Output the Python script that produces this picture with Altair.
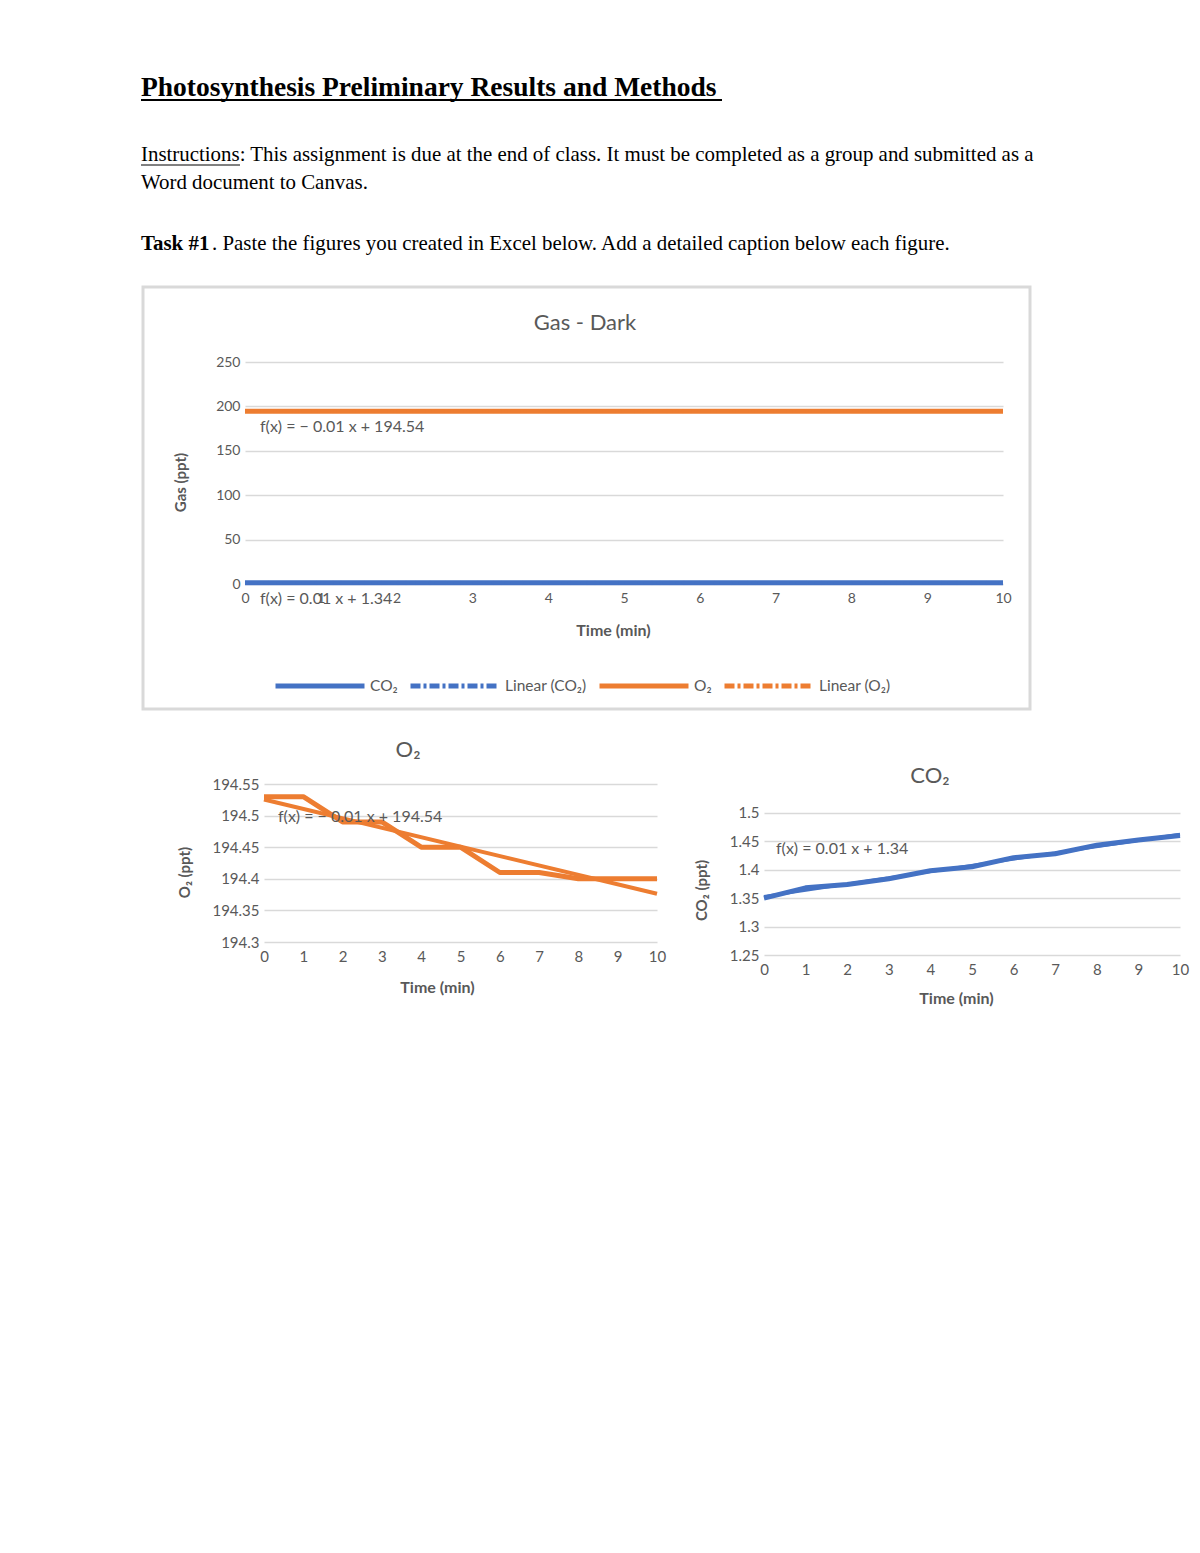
import altair as alt
import pandas as pd

# ---------------- data ----------------
time_min = [0, 1, 2, 3, 4, 5, 6, 7, 8, 9, 10]
o2_ppt = [194.53, 194.53, 194.49, 194.49, 194.45, 194.45, 194.41, 194.41, 194.40, 194.40, 194.40]
co2_ppt = [1.350, 1.368, 1.374, 1.384, 1.398, 1.405, 1.421, 1.428, 1.443, 1.452, 1.460]
gas_names = ["CO₂", "O₂"]
series_names = ["CO₂", "Linear (CO₂)", "O₂", "Linear (O₂)"]
x_ticks = [0, 1, 2, 3, 4, 5, 6, 7, 8, 9, 10]
main_y_ticks = [0, 50, 100, 150, 200, 250]
o2_y_ticks = [194.3, 194.35, 194.4, 194.45, 194.5, 194.55]
co2_y_ticks = [1.25, 1.3, 1.35, 1.4, 1.45, 1.5]

doc_title = "Photosynthesis Preliminary Results and Methods "
doc_line1 = "Instructions: This assignment is due at the end of class. It must be completed as a group and submitted as a"
doc_line2 = "Word document to Canvas."
doc_task_bold = "Task #1"
doc_task_rest = ". Paste the figures you created in Excel below. Add a detailed caption below each figure."

main_title = "Gas - Dark"
o2_title = "O₂"
co2_title = "CO₂"
eq_o2 = "f(x) = − 0.01 x + 194.54"
eq_co2 = "f(x) = 0.01 x + 1.34"

# ---------------- styles ----------------
FONT = "Lato"
SERIF = "Liberation Serif"
GRAY = "#595959"
GRID = "#d9d9d9"
BLUE = "#4472C4"
ORANGE = "#ED7D31"
series_colors = [BLUE, BLUE, ORANGE, ORANGE]
series_dashes = [[1, 0], [10, 3, 3, 3], [1, 0], [10, 3, 3, 3]]

long_df = pd.DataFrame({
    "time": time_min * 2,
    "gas": [gas_names[0]] * len(time_min) + [gas_names[1]] * len(time_min),
    "value": co2_ppt + o2_ppt,
})
o2_df = pd.DataFrame({"time": time_min, "value": o2_ppt})
co2_df = pd.DataFrame({"time": time_min, "value": co2_ppt})


def one(text):
    return alt.Chart(pd.DataFrame({"t": [text]}))


def label(text, x, y, size, color=GRAY, font=FONT, weight="normal", align="left", baseline="middle"):
    return one(text).mark_text(font=font, fontSize=size, color=color, fontWeight=weight,
                               align=align, baseline=baseline).encode(
        x=alt.value(x), y=alt.value(y), text="t:N")


def anchor(x, x2, y, y2):
    return one("").mark_rect(opacity=0).encode(
        x=alt.value(x), x2=alt.value(x2), y=alt.value(y), y2=alt.value(y2))


def x_axis(tx, ty, size):
    return alt.Axis(values=x_ticks, title="Time (min)", grid=False, ticks=False, tickSize=0,
                    domain=False, labelFont=FONT, labelFontSize=size, labelColor=GRAY,
                    labelPadding=7, labelAngle=0, labelFlush=False, labelOverlap=False,
                    titleFont=FONT, titleFontSize=16,
                    titleFontWeight="bold", titleColor=GRAY, titleX=tx, titleY=ty,
                    titleBaseline="middle")


def y_axis(vals, fmt, title, tx, ty, size, pad=5):
    return alt.Axis(values=vals, format=fmt, title=title, grid=True, gridColor=GRID,
                    gridWidth=1.6, ticks=False, tickSize=0, domain=False, labelFont=FONT,
                    labelFontSize=size, labelColor=GRAY, labelPadding=pad, labelFlush=False,
                    titleFont=FONT,
                    titleFontSize=15, titleFontWeight="bold", titleColor=GRAY,
                    titleX=tx, titleY=ty, titleBaseline="middle")


# ---------------- main chart: Gas - Dark ----------------
# origin of this panel is aligned with the O2 panel origin; the plot itself starts 19px left of it
W1, H1 = 739, 222
legend_def = alt.Legend(title=None, orient="none", legendX=9, legendY=277,
                        direction="horizontal", symbolType="stroke", symbolSize=7921,
                        symbolStrokeWidth=5, labelFont=FONT, labelFontSize=15.5,
                        labelColor=GRAY, labelOffset=3, columnPadding=2, padding=0)
color_enc = alt.Color("series:N", scale=alt.Scale(domain=series_names, range=series_colors),
                      legend=legend_def)
dash_enc = alt.StrokeDash("series:N", scale=alt.Scale(domain=series_names, range=series_dashes),
                          legend=legend_def)
x_main = alt.X("time:Q", scale=alt.Scale(domain=[0, 10], nice=False, range=[-19, 739]),
               axis=x_axis(349, 46, 14))
y_main = alt.Y("value:Q", scale=alt.Scale(domain=[0, 250], nice=False),
               axis=y_axis(main_y_ticks, "d", "Gas (ppt)", -84, 120, 14, pad=24))

box = one("").mark_rect(fill="white", fillOpacity=0, stroke=GRID, strokeWidth=3).encode(
    x=alt.value(-121), x2=alt.value(766), y=alt.value(-75), y2=alt.value(347))

main_lines = alt.Chart(long_df).transform_calculate(series="datum.gas").mark_line(
    strokeWidth=5, strokeCap="butt", strokeJoin="round").encode(
    x=x_main, y=y_main, color=color_enc, strokeDash=dash_enc, detail="series:N")
main_trend = alt.Chart(long_df).transform_regression(
    "time", "value", groupby=["gas"], extent=[0, 10]).transform_calculate(
    series="'Linear (' + datum.gas + ')'").mark_line(strokeWidth=3, strokeCap="butt").encode(
    x=x_main, y=y_main, color=color_enc, strokeDash=dash_enc, detail="series:N")

header = [
    label(doc_title, -123, -266, 27.5, color="black", font=SERIF, weight="bold", baseline="alphabetic"),
    one("").mark_rule(color="black", strokeWidth=2).encode(
        x=alt.value(-123), x2=alt.value(458), y=alt.value(-262)),
    label(doc_line1, -123, -201, 20.9, color="black", font=SERIF, baseline="alphabetic"),
    one("").mark_rule(color="black", strokeWidth=1).encode(
        x=alt.value(-123), x2=alt.value(-24), y=alt.value(-197)),
    label(doc_line2, -123, -173, 20.9, color="black", font=SERIF, baseline="alphabetic"),
    label(doc_task_bold, -123, -112, 20.9, color="black", font=SERIF, weight="bold", baseline="alphabetic"),
    label(doc_task_rest, -52, -112, 20.9, color="black", font=SERIF, baseline="alphabetic"),
]

main = alt.layer(
    anchor(-256, 928, -354, 349),
    box,
    *header,
    main_lines,
    main_trend,
    label(main_title, 321, -39, 22, align="center"),
    label(eq_o2, -4, 65, 16),
    label(eq_co2, -4, 237, 16),
).properties(width=W1, height=H1)

# ---------------- O2 chart ----------------
W2, H2 = 393, 158
x_o2 = alt.X("time:Q", scale=alt.Scale(domain=[0, 10], nice=False), axis=x_axis(173, 45, 15))
y_o2 = alt.Y("value:Q", scale=alt.Scale(domain=[194.3, 194.55], nice=False, zero=False),
             axis=y_axis(o2_y_ticks, ".2~f", "O₂ (ppt)", -80, 88, 15))
o2_line = alt.Chart(o2_df).mark_line(color=ORANGE, strokeWidth=5, strokeJoin="round").encode(
    x=x_o2, y=y_o2)
o2_trend = alt.Chart(o2_df).transform_regression("time", "value", extent=[0, 10]).mark_line(
    color=ORANGE, strokeWidth=4).encode(x=x_o2, y=y_o2)
o2_chart = alt.layer(
    anchor(-256, 416, -73, 226),
    o2_line, o2_trend,
    label(o2_title, 144, -34, 22, align="center"),
    label(eq_o2, 14, 33, 16),
).properties(width=W2, height=H2)

# ---------------- CO2 chart ----------------
# origin shares the O2 panel's top; the plot area begins 29px lower
W3, H3 = 416, 171
x_co2 = alt.X("time:Q", scale=alt.Scale(domain=[0, 10], nice=False), axis=x_axis(192, 43, 15))
y_co2 = alt.Y("value:Q", scale=alt.Scale(domain=[1.25, 1.5], nice=False, zero=False, range=[171, 28.7]),
              axis=y_axis(co2_y_ticks, ".2~f", "CO₂ (ppt)", -63, 106, 15))
co2_line = alt.Chart(co2_df).mark_line(color=BLUE, strokeWidth=5, strokeJoin="round").encode(
    x=x_co2, y=y_co2)
co2_trend = alt.Chart(co2_df).transform_regression("time", "value", extent=[0, 10]).mark_line(
    color=BLUE, strokeWidth=3).encode(x=x_co2, y=y_co2)
co2_chart = alt.layer(
    anchor(-84, 428, -73, 226),
    co2_trend, co2_line,
    label(co2_title, 166, -8, 22, align="center"),
    label(eq_co2, 12, 65, 16),
).properties(width=W3, height=H3)

chart = alt.vconcat(
    main,
    alt.hconcat(o2_chart, co2_chart, spacing=0),
    spacing=0,
).properties(padding=0, background="white").configure_view(strokeWidth=0)

chart.save("out.html", embed_options={"renderer": "svg", "actions": False})
